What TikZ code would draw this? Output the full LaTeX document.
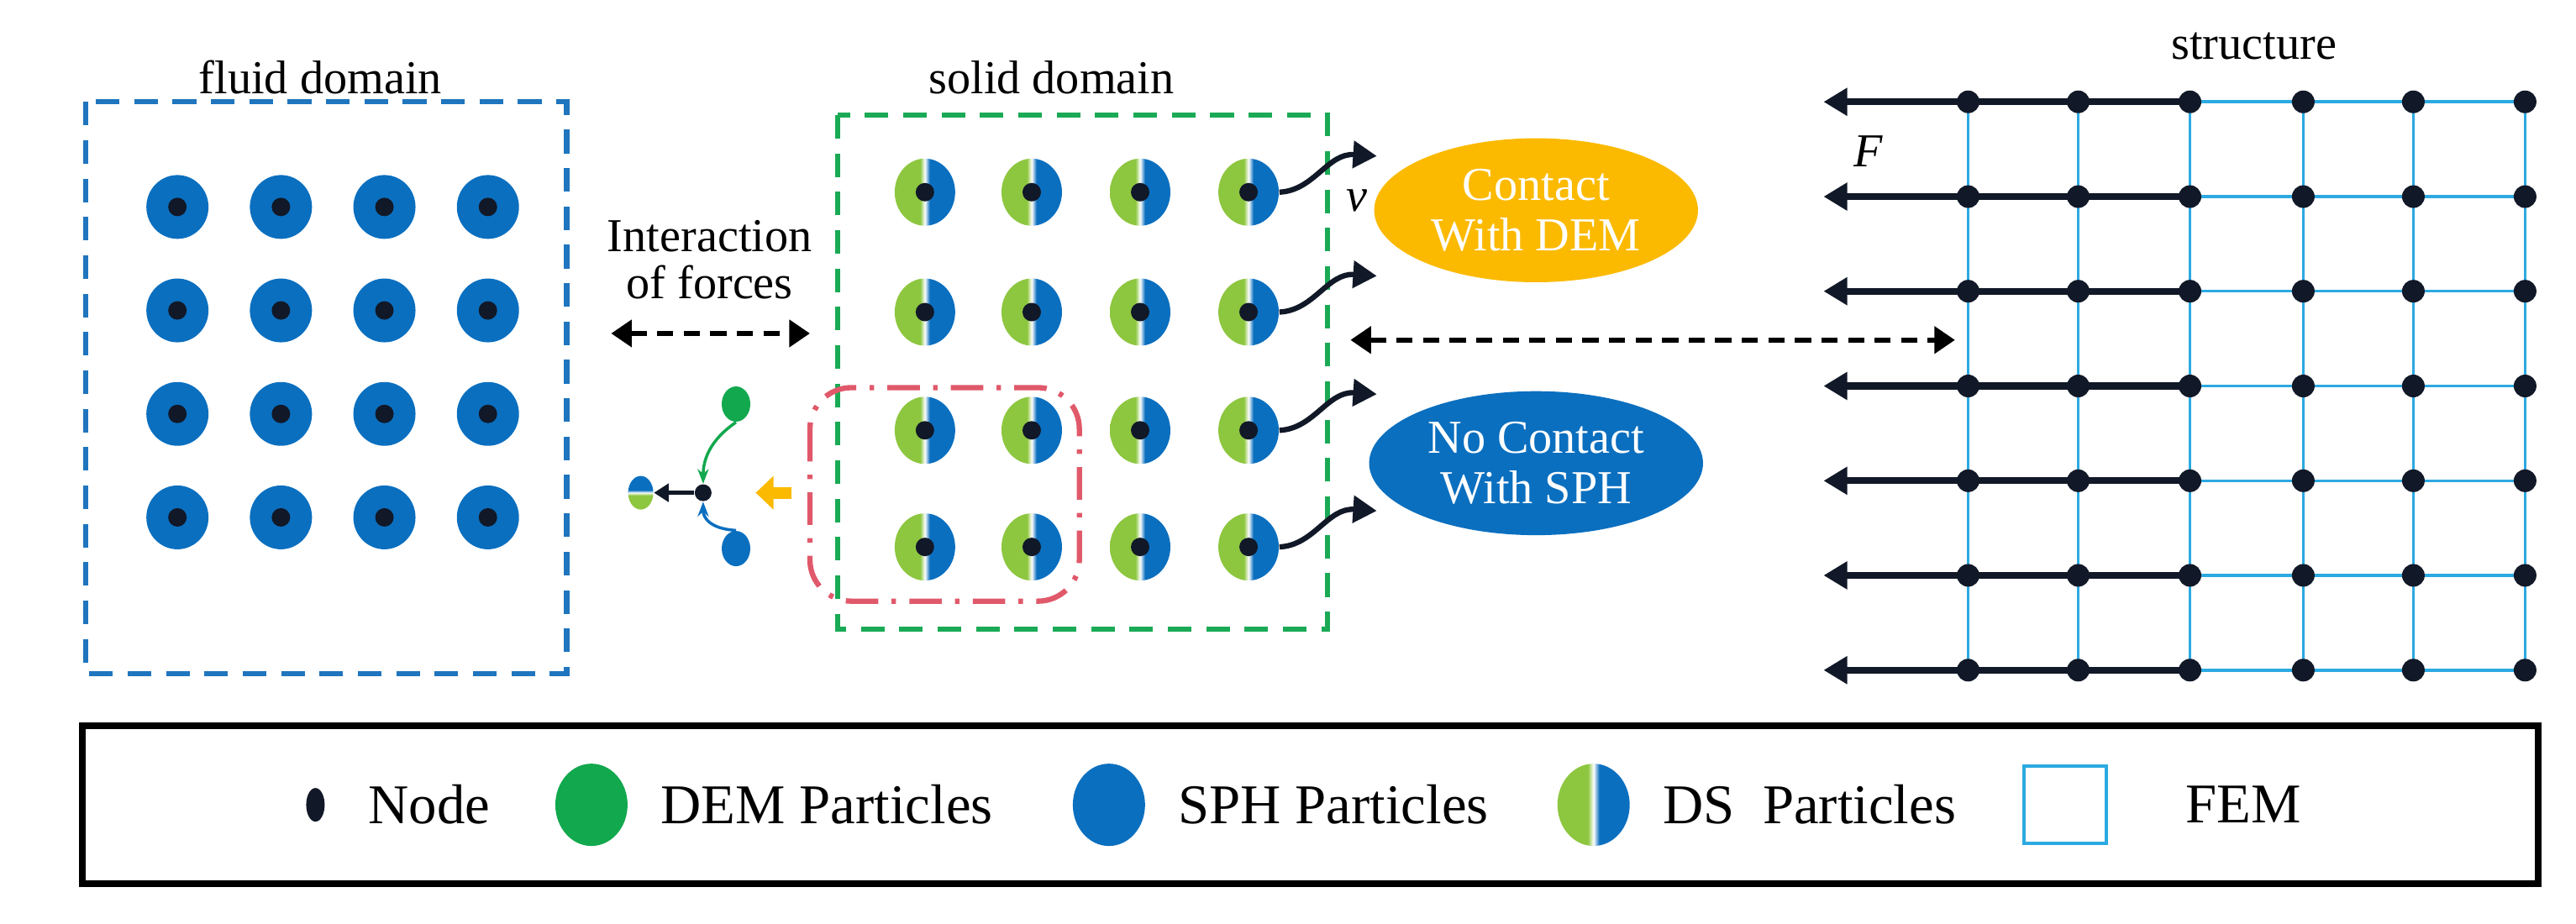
\documentclass[tikz,border=0pt]{standalone}
\usepackage{fontspec}
\setmainfont{Liberation Serif}
\usetikzlibrary{shapes.geometric,arrows.meta}
\definecolor{sphb}{HTML}{0B6FBF}
\definecolor{demg}{HTML}{12A84E}
\definecolor{dsg}{HTML}{8DC63F}
\definecolor{fluidc}{HTML}{1F75BE}
\definecolor{solidc}{HTML}{1AAA55}
\definecolor{redc}{HTML}{E0596A}
\definecolor{yel}{HTML}{FBBA00}
\definecolor{gridc}{HTML}{2CA9E1}
\definecolor{nodec}{HTML}{111827}
\pgfdeclarehorizontalshading{dsh}{100bp}{color(0bp)=(dsg); color(46bp)=(dsg); color(50bp)=(white); color(54bp)=(sphb); color(100bp)=(sphb)}
\pgfdeclareverticalshading{dsv}{100bp}{color(0bp)=(dsg); color(46bp)=(dsg); color(50bp)=(white); color(54bp)=(sphb); color(100bp)=(sphb)}
\tikzset{
  sph/.style={ellipse,fill=sphb,minimum width=0.74cm,minimum height=0.76cm,inner sep=0},
  dsp/.style={ellipse,shading=dsh,minimum width=0.72cm,minimum height=0.8cm,inner sep=0},
  dot/.style={circle,fill=nodec,minimum size=0.22cm,inner sep=0},
  gdot/.style={circle,fill=nodec,minimum size=0.27cm,inner sep=0},
  dashbox/.style={line width=1.8pt,dash pattern=on 8pt off 5pt},
  darr/.style={line width=1.7pt,dash pattern=on 5.5pt off 3.5pt,{Triangle[length=7pt,width=9pt]}-{Triangle[length=7pt,width=9pt]}},
  curly/.style={line width=1.8pt,nodec,-{Triangle[length=8pt,width=9pt]}},
  farr/.style={line width=2.3pt,nodec,-{Triangle[length=8pt,width=9pt]}},
  lbl/.style={font=\fontsize{16}{18}\selectfont},
  lgd/.style={font=\fontsize{19}{22}\selectfont,anchor=west,inner sep=0},
  elab/.style={ellipse,minimum width=3.5cm,minimum height=1.65cm,align=center,text=white,font=\fontsize{16}{17}\selectfont},
}
\begin{document}
\begin{tikzpicture}[x=0.01956cm,y=-0.01956cm]
\useasboundingbox (0,0) rectangle (1568,562.4);
% fluid domain
\node[lbl] (tf) at (195,47) {fluid domain};
\draw[dashbox,fluidc] (52,62) rectangle (345,410);
\foreach \i/\x in {1/108,2/171,3/234,4/297}
 \foreach \j/\y in {1/126,2/189,3/252,4/315}{
  \node[sph] (f\i\j) at (\x,\y) {};
  \node[dot] at (f\i\j) {};
 }
% interaction
\node[lbl,align=center] (int) at (432,158) {Interaction\\[-2pt]of forces};
\coordinate (ia) at (372,203); \coordinate (ib) at (493,203);
\draw[darr] (ia) -- (ib);
% solid domain
\node[lbl] (ts) at (640,47) {solid domain};
\draw[dashbox,solidc] (510,70) rectangle (808,383);
\foreach \i/\x in {1/563,2/628,3/694,4/760}
 \foreach \j/\y in {1/117,2/190,3/262,4/333}{
  \node[dsp] (s\i\j) at (\x,\y) {};
  \node[dot] at (s\i\j) {};
 }
\foreach \j/\y in {1/117,2/190,3/262,4/333}{
  \coordinate (v\j) at (838,\y-22);
  \draw[curly] (s4\j.east) .. controls (800,\y-1) and (808,\y-24) .. (v\j);
}
\node[font=\fontsize{16}{18}\selectfont\itshape] (vl) at (826,122) {v};
% red selection
\draw[redc,line width=1.8pt,rounded corners=14pt,dash pattern=on 11pt off 4.5pt on 1.5pt off 4.5pt] (493,236) rectangle (657,366);
% small interaction sketch
\node[ellipse,fill=demg,minimum width=0.34cm,minimum height=0.42cm,inner sep=0] (sg) at (448,246) {};
\node[ellipse,fill=sphb,minimum width=0.34cm,minimum height=0.42cm,inner sep=0] (sb) at (448,334) {};
\node[ellipse,shading=dsv,minimum width=0.3cm,minimum height=0.4cm,inner sep=0] (sd) at (390,300) {};
\node[circle,fill=nodec,minimum size=0.2cm,inner sep=0] (sn) at (428,300) {};
\draw[demg,line width=1pt,-{Stealth[length=5pt]}] (sg.south) .. controls (432,268) and (428,280) .. (sn.north);
\draw[sphb,line width=1pt,-{Stealth[length=5pt]}] (sb.north) .. controls (432,322) and (428,315) .. (sn.south);
\draw[nodec,line width=1.4pt,-{Triangle[length=5pt,width=6pt]}] (sn) -- (sd.east);
\coordinate (ya) at (482,300); \coordinate (yb) at (460,300);
\draw[yel,line width=4pt,-{Triangle[length=6pt,width=11pt]}] (ya) -- (yb);
% ellipses
\node[elab,fill=yel] (cd) at (935,128) {Contact\\With DEM};
\node[elab,fill=sphb] (nc) at (935,282) {No Contact\\With SPH};
\coordinate (da) at (822,207); \coordinate (db) at (1190,207);
\draw[darr] (da) -- (db);
% structure
\node[lbl] (tst) at (1372,28) {structure};
\foreach \i/\x in {1/1198,2/1265,3/1333,4/1402,5/1469,6/1537}
 \foreach \j/\y in {1/62,2/119.7,3/177.3,4/235,5/292.7,6/350.3,7/408}
  \coordinate (g\i\j) at (\x,\y);
\foreach \i in {1,...,6} \draw[gridc,line width=1pt] (g\i1) -- (g\i7);
\foreach \j in {1,...,7}{
  \draw[gridc,line width=1pt] (g3\j) -- (g6\j);
  \coordinate (ga\j) at (1110,0 |- g1\j);
  \draw[farr] (g3\j) -- (ga\j);
  \foreach \i in {1,...,6} \node[gdot] at (g\i\j) {};
}
\node[font=\fontsize{16}{18}\selectfont\itshape] (fl) at (1137,92) {F};
% legend
\draw[line width=2.4pt] (50,442) rectangle (1545,538);
\node[ellipse,fill=nodec,minimum width=0.22cm,minimum height=0.4cm,inner sep=0] (ln) at (192,490) {};
\node[lgd] (lnt) at (224,490) {Node};
\node[ellipse,fill=demg,minimum width=0.86cm,minimum height=0.98cm,inner sep=0] (lg) at (360,490) {};
\node[lgd] (lgt) at (402,490) {DEM Particles};
\node[ellipse,fill=sphb,minimum width=0.86cm,minimum height=0.98cm,inner sep=0] (lb) at (675,490) {};
\node[lgd] (lbt) at (717,490) {SPH Particles};
\node[ellipse,shading=dsh,minimum width=0.86cm,minimum height=0.98cm,inner sep=0] (ld) at (970,490) {};
\node[lgd] (ldt) at (1012,490) {DS\ \ Particles};
\node[draw=gridc,line width=1.2pt,minimum width=0.98cm,minimum height=0.92cm,inner sep=0] (lf) at (1257,490) {};
\node[lgd] (lft) at (1330,490) {FEM};
\end{tikzpicture}
\end{document}
